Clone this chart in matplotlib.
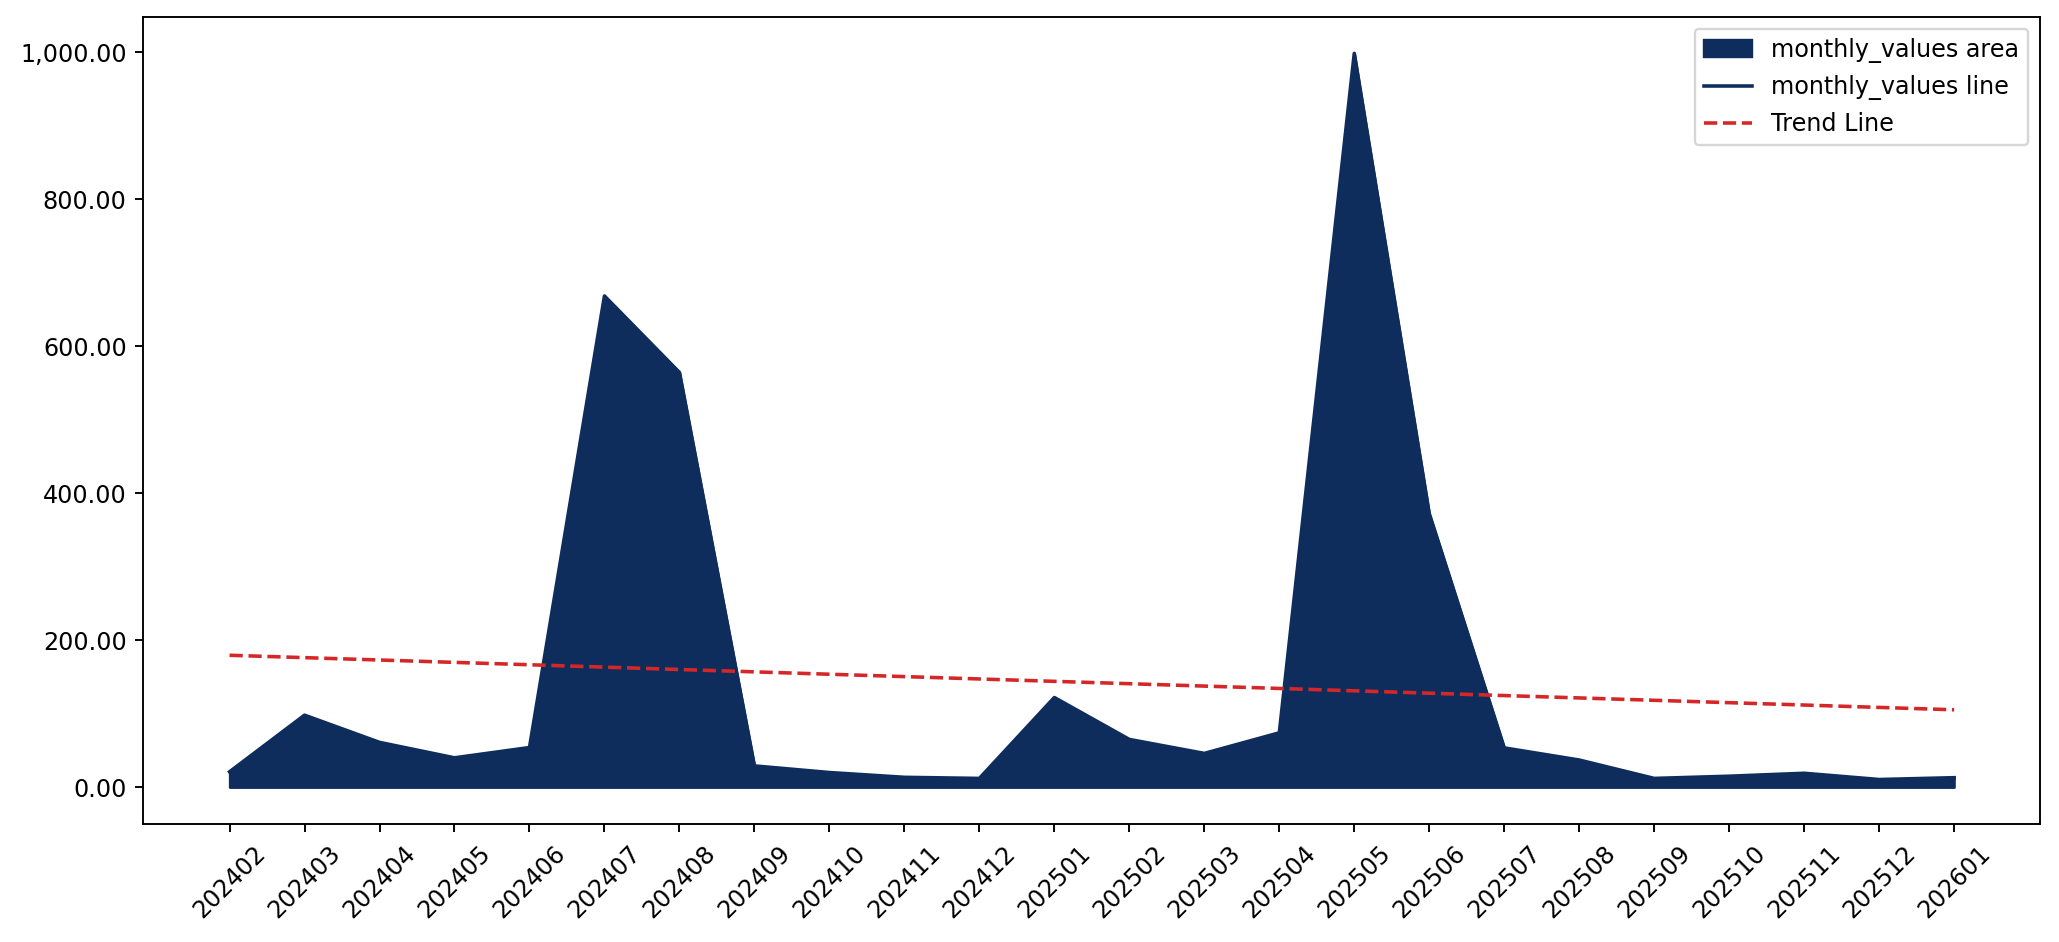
import matplotlib.pyplot as plt
import matplotlib.ticker as mticker
import numpy as np

# Mesi (etichette asse x) e valori mensili
months = ['202402', '202403', '202404', '202405', '202406', '202407', '202408',
          '202409', '202410', '202411', '202412', '202501', '202502', '202503',
          '202504', '202505', '202506', '202507', '202508', '202509', '202510',
          '202511', '202512', '202601']
monthly_values = [21, 98, 61, 40, 54, 668, 564, 29, 20, 13.5, 12, 122, 65, 46,
                  74, 998, 372, 53.5, 37, 12, 15, 19, 10.5, 13]

x = np.arange(len(months))
y = np.array(monthly_values)

# Linea di tendenza (regressione lineare)
coef = np.polyfit(x, y, 1)
trend = np.polyval(coef, x)

DPI = 171.5
fig, ax = plt.subplots(figsize=(2059.3 / DPI, 942.3 / DPI), dpi=DPI)
ax.fill_between(x, y, color='#0e2d5c', label='monthly_values area')
ax.plot(x, y, color='#0e2d5c', linewidth=1.5, label='monthly_values line')
ax.plot(x, trend, color='#d62728', linestyle='--', linewidth=1.5, label='Trend Line')

ax.set_xticks(x)
ax.set_xticklabels(months, rotation=45)
ax.yaxis.set_major_formatter(mticker.StrMethodFormatter('{x:,.2f}'))
ax.legend(loc='upper right')

fig.subplots_adjust(left=0.0696, right=0.9908, top=0.982, bottom=0.1253)
fig.savefig('out.png', dpi=DPI)
